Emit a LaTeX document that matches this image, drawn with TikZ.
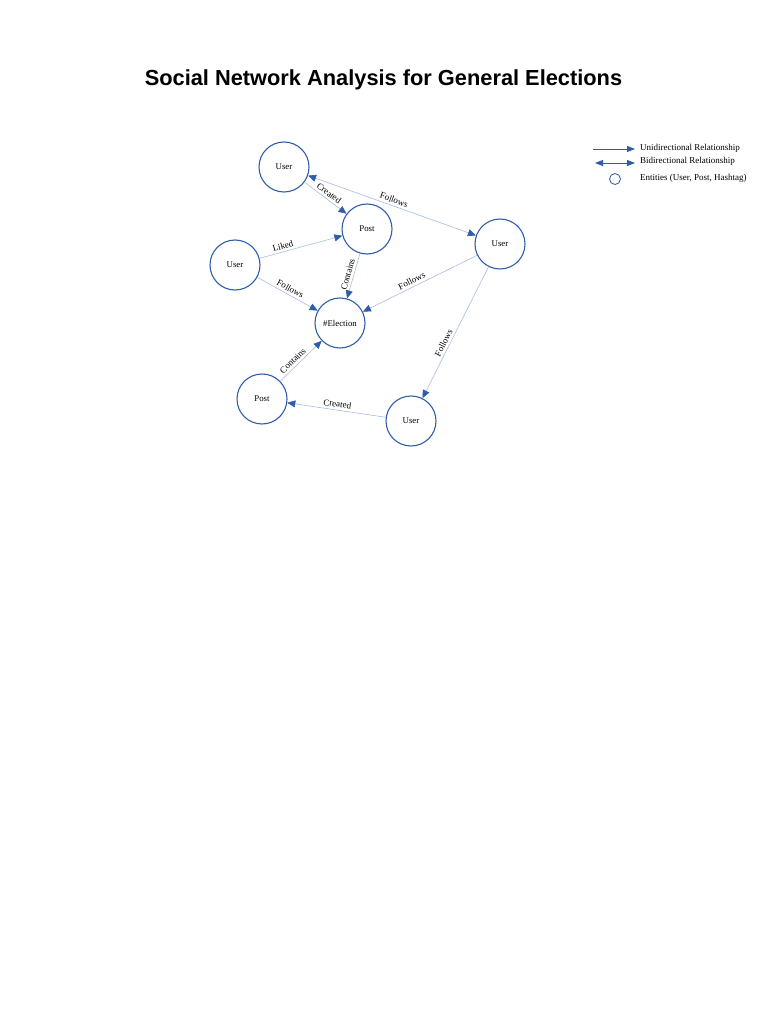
\documentclass[tikz,border=0pt]{standalone}
\usepackage{fontspec}
\setmainfont{Liberation Serif}
\newfontfamily\titlefont{Liberation Sans}
\usetikzlibrary{arrows.meta}
\definecolor{ring}{HTML}{2F5DAA}
\definecolor{wire}{HTML}{A7BCE2}
\definecolor{tip}{HTML}{2F5DAA}
\begin{document}
\begin{tikzpicture}[x=1pt,y=-1pt,
    entity/.style={circle,draw=ring,line width=1.1pt,minimum size=50pt,inner sep=0pt,font=\fontsize{8.8}{10}\selectfont},
    rel/.style={draw=wire,line width=0.6pt,-{Triangle[length=8pt,width=7pt,color=tip]}},
    birel/.style={draw=wire,line width=0.6pt,{Triangle[length=8pt,width=7pt,color=tip]}-{Triangle[length=8pt,width=7pt,color=tip]}},
    lbl/.style={font=\fontsize{9}{10}\selectfont,sloped,above,inner sep=2.5pt}]
  \useasboundingbox (0,0) rectangle (768,1024);
  \node[font=\titlefont\bfseries\fontsize{21.8}{24}\selectfont] (title) at (383.5,80) {Social Network Analysis for General Elections};
  % entities
  \node[entity] (u1) at (284,167) {User};
  \node[entity] (p1) at (367,229) {Post};
  \node[entity] (u2) at (235,265) {User};
  \node[entity] (u3) at (500,244) {User};
  \node[entity] (el) at (340,323) {\#Election};
  \node[entity] (p2) at (262,399) {Post};
  \node[entity] (u4) at (411,421) {User};
  % relationships
  \draw[birel] (u1) -- node[lbl] {Follows} (u3);
  \draw[rel] (u1) -- node[lbl,pos=0.5] {Created} (p1);
  \draw[rel] (u2) -- node[lbl,pos=0.3] {Liked} (p1);
  \draw[rel] (u2) -- node[lbl] {Follows} (el);
  \draw[rel] (p1) -- node[lbl] {Contains} (el);
  \draw[rel] (u3) -- node[lbl,pos=0.55] {Follows} (el);
  \draw[rel] (u3) -- node[lbl,pos=0.6] {Follows} (u4);
  \draw[rel] (u4) -- node[lbl] {Created} (p2);
  \draw[rel] (p2) -- node[lbl,pos=0.4] {Contains} (el);
  % legend
  \coordinate (a1) at (593,149);
  \coordinate (a2) at (635,149);
  \coordinate (b1) at (595,163);
  \coordinate (b2) at (635,163);
  \draw[draw=ring,line width=0.8pt,-{Triangle[length=8pt,width=6pt,color=tip]}] (a1) -- (a2);
  \draw[draw=ring,line width=0.8pt,{Triangle[length=8pt,width=6pt,color=tip]}-{Triangle[length=8pt,width=6pt,color=tip]}] (b1) -- (b2);
  \node[circle,draw=ring,line width=0.8pt,minimum size=11pt,inner sep=0pt] (key) at (615,179) {};
  \node[anchor=west,inner sep=0pt,font=\fontsize{9}{10}\selectfont] (t1) at (640,148) {Unidirectional Relationship};
  \node[anchor=west,inner sep=0pt,font=\fontsize{9}{10}\selectfont] (t2) at (640,161) {Bidirectional Relationship};
  \node[anchor=west,inner sep=0pt,font=\fontsize{9}{10}\selectfont] (t3) at (640,178) {Entities (User, Post, Hashtag)};
\end{tikzpicture}
\end{document}
